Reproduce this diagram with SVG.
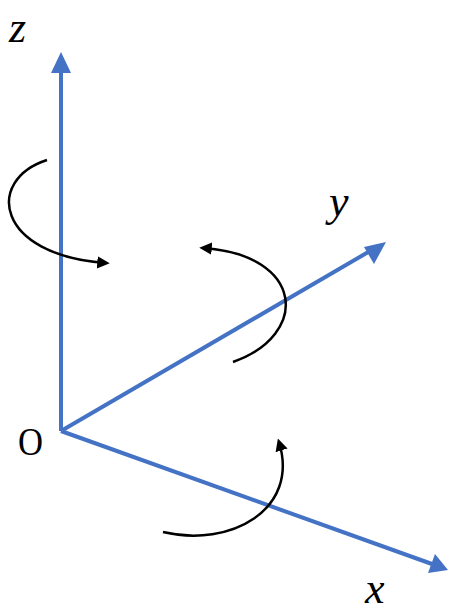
<svg xmlns="http://www.w3.org/2000/svg" width="468" height="614" viewBox="0 0 468 614">
<defs>
<style>
.axis{stroke:#4472C4;stroke-width:4;fill:none}
.rot{stroke:#000;stroke-width:2.5;fill:none;marker-end:url(#ah)}
.lab{font-family:"Liberation Serif","DejaVu Serif",serif;font-style:italic;font-size:44px;fill:#000}
.o{font-family:"Liberation Serif","DejaVu Serif",serif;font-size:41px;fill:#000}
</style>
<marker id="ah" viewBox="0 0 10 10" refX="7" refY="5" markerWidth="5" markerHeight="5" orient="auto" markerUnits="strokeWidth">
<path d="M0,0 L10,5 L0,10 Z" fill="#000"/>
</marker>
</defs>
<rect width="468" height="614" fill="#fff"/>
<g id="connectors">
<line class="axis" x1="61" y1="431" x2="61" y2="70"/>
<polygon points="61,52 51,73 71,73" fill="#4472C4"/>
<line class="axis" x1="61" y1="431" x2="370" y2="251"/>
<polygon points="386,242 364,247 374,264" fill="#4472C4"/>
<line class="axis" x1="61" y1="431" x2="432" y2="564"/>
<polygon points="448,570 428,573 435,554" fill="#4472C4"/>
<path class="rot" d="M47,160 C-15,180 -5,255 106,263"/>
<path class="rot" d="M233,362 C310,335 305,255 203,248"/>
<path class="rot" d="M163,532 C230,548 300,510 279,442"/>
</g>
<g id="label-z"><text class="lab" x="9" y="42">z</text></g>
<g id="label-y"><text class="lab" x="329" y="216">y</text></g>
<g id="label-x"><text class="lab" x="365" y="603">x</text></g>
<g id="label-o"><text class="o" x="18" y="455" textLength="25" lengthAdjust="spacingAndGlyphs">O</text></g>
</svg>
